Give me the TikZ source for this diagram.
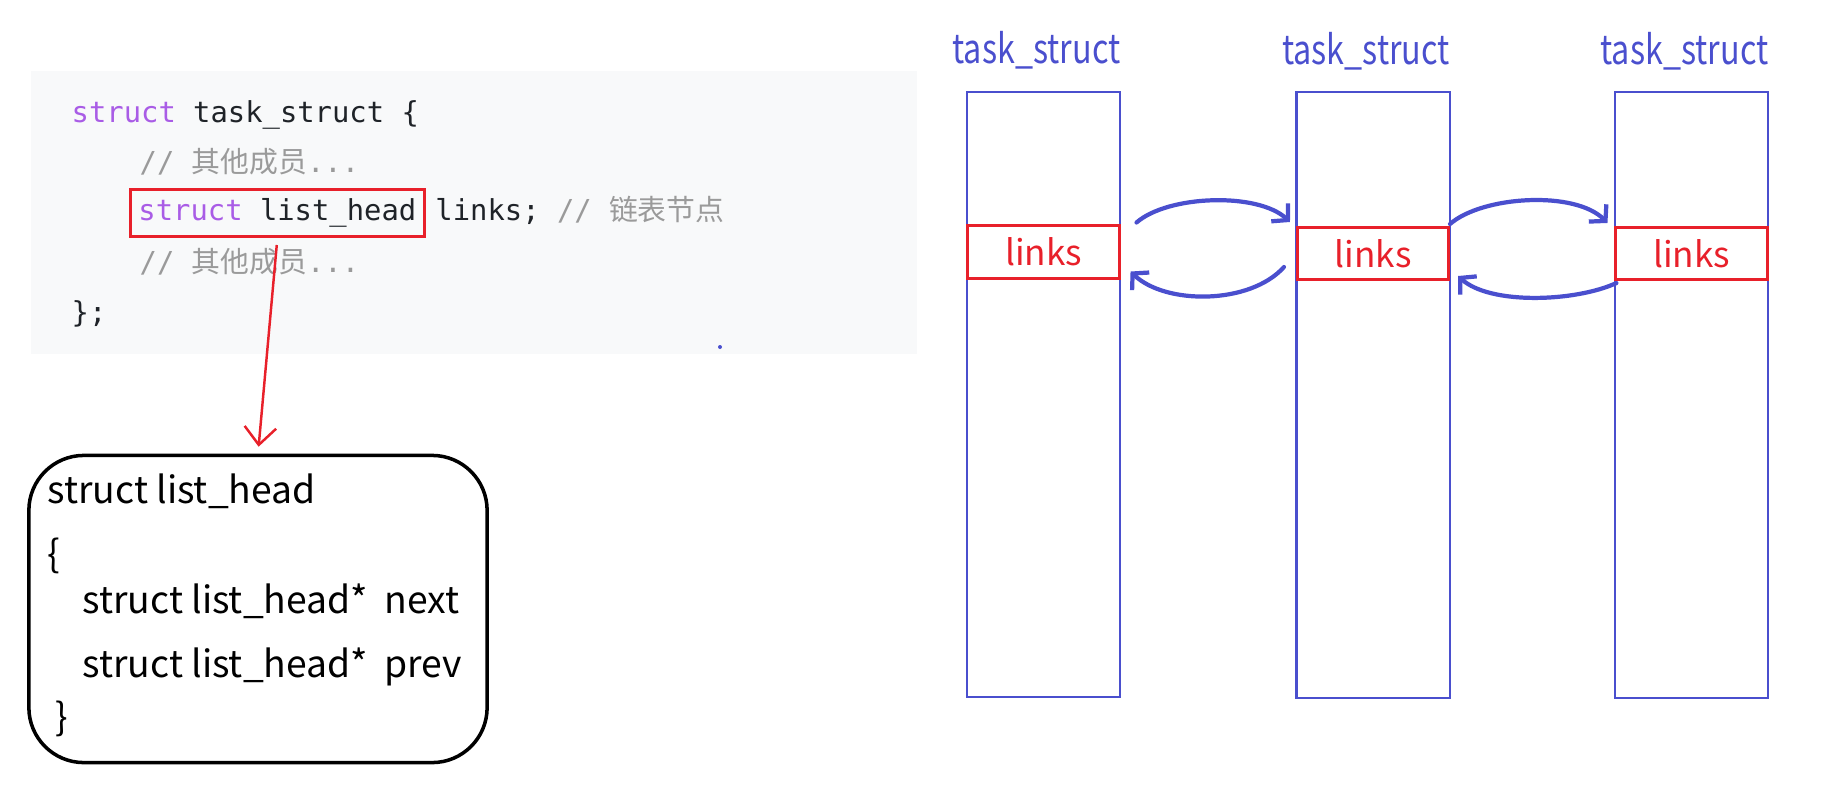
\documentclass[tikz,border=0pt]{standalone}
\usepackage{fontspec}
\setmainfont{Noto Sans CJK SC}
\newfontfamily\codefont{DejaVu Sans Mono}
\newfontfamily\cjk{Noto Sans CJK SC}
\usepackage{graphicx}
\usepackage{tikz}
\usetikzlibrary{arrows.meta,positioning}

\definecolor{codebg}{HTML}{F8F9FA}
\definecolor{kwpurple}{HTML}{A95CE6}
\definecolor{codeink}{HTML}{1F2328}
\definecolor{commentgray}{HTML}{9A9A9A}
\definecolor{markred}{HTML}{E8202A}
\definecolor{taskblue}{HTML}{4A4FCE}

\newcommand{\kw}[1]{\textcolor{kwpurple}{#1}}
\newcommand{\cmt}[1]{\textcolor{commentgray}{#1}}
\newcommand{\narrow}[1]{\scalebox{0.8}[1]{#1}}

\begin{document}
\begin{tikzpicture}[x=0.01cm,y=-0.01cm,
    codeline/.style={anchor=base west,inner sep=0pt,text=codeink,font=\codefont\fontsize{8.2pt}{10pt}\selectfont},
    markbox/.style={draw=markred,line width=0.85pt,inner xsep=0.08cm,inner ysep=0pt,minimum height=0.47cm,text=codeink,font=\codefont\fontsize{8.2pt}{10pt}\selectfont},
    structtext/.style={anchor=base west,inner sep=0pt,font=\fontsize{10.6pt}{13pt}\selectfont},
    taskbox/.style={draw=taskblue,line width=0.6pt,minimum width=1.53cm,minimum height=6.05cm},
    linkbox/.style={draw=markred,line width=0.85pt,text=markred,minimum width=1.51cm,minimum height=0.52cm,font=\fontsize{10pt}{12pt}\selectfont},
    tasklabel/.style={anchor=base east,inner sep=0pt,text=taskblue,font=\fontsize{11.5pt}{13pt}\selectfont},
    linkarrow/.style={draw=taskblue,line width=1.2pt,line cap=round,line join=round,-{Straight Barb[length=3.2pt,width=7pt]}}]
    \useasboundingbox (0,0) rectangle (1845,800);

    % code panel
    \fill[codebg] (31,71) rectangle (917,354);
    \node[codeline] (c1) at (71,122) {\kw{struct} task\_struct \{};
    \node[codeline] (c2) at (139,172) {\cmt{// {\cjk 其他成员}...}};
    \node[markbox,anchor=west] (lh) at (129,213) {\kw{struct} list\_head};
    \node[codeline] (c3) at ([xshift=0.09cm]lh.base east) {links; \cmt{// {\cjk 链表节点}}};
    \node[codeline] (c4) at (139,272) {\cmt{// {\cjk 其他成员}...}};
    \node[codeline] (c5) at (71,322) {\};};
    \fill[taskblue] (720,347) circle[radius=0.02cm];

    % list_head definition
    \node[draw,line width=1pt,rounded corners=0.55cm,minimum width=4.58cm,minimum height=3.07cm] (lhbox) at (258,609) {};
    \node[structtext] (s1) at (47,503) {struct list\_head};
    \node[structtext] (s2) at (47,567) {\{};
    \node[structtext] (s3) at (82,613) {struct list\_head*~~next};
    \node[structtext] (s4) at (82,677) {struct list\_head*~~prev};
    \node[structtext] (s5) at (55,730) {\}};
    \draw[markred,line width=0.7pt,shorten <=0.07cm,shorten >=0.07cm,-{Straight Barb[length=5pt,width=9pt]}] (lh.south) -- (lhbox.north);

    % task_struct chain
    \node[taskbox] (t1) at (1043.5,394.5) {};
    \node[taskbox] (t2) at (1373,395) {};
    \node[taskbox] (t3) at (1691.5,395) {};
    \node[linkbox] (k1) at (1043.5,252) {links};
    \node[linkbox] (k2) at (1373,253.5) {links};
    \node[linkbox] (k3) at (1691.5,253.5) {links};
    \node[tasklabel] (n1) at ([yshift=0.27cm]t1.north east) {\narrow{task\_struct}};
    \node[tasklabel] (n2) at ([yshift=0.27cm]t2.north east) {\narrow{task\_struct}};
    \node[tasklabel] (n3) at ([yshift=0.27cm]t3.north east) {\narrow{task\_struct}};

    \draw[linkarrow] ([shift={(16,-2)}]k1.north east) .. controls (1168,195) and (1258,192) .. ([shift={(-6,-4)}]k2.north west);
    \draw[linkarrow] ([shift={(-12,-14)}]k2.south west) .. controls (1250,305) and (1165,305) .. ([shift={(10,-8)}]k1.south east);
    \draw[linkarrow] ([shift={(0,-2)}]k2.north east) .. controls (1482,196) and (1575,190) .. ([shift={(-7,-3)}]k3.north west);
    \draw[linkarrow] ([shift={(2,2)}]k3.south west) .. controls (1575,302) and (1490,305) .. ([shift={(8,-5)}]k2.south east);
\end{tikzpicture}
\end{document}
